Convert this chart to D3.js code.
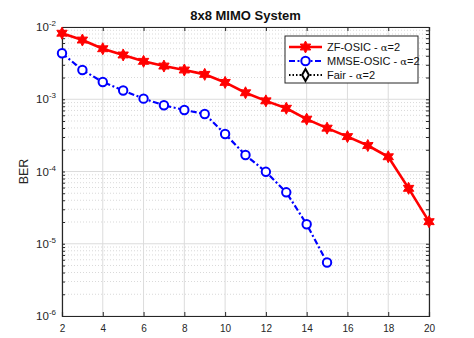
<!DOCTYPE html>
<html>
<head>
<meta charset="utf-8">
<script src="https://cdn.jsdelivr.net/npm/d3@7"></script>
<style>
	body{ margin:0; background:#fff; }
	svg text{ font-family:"Liberation Sans", Arial, sans-serif; }
</style>
</head>
<body>
<svg id="chart" width="474" height="338"></svg>
<script>
// data
var snr = [2, 3, 4, 5, 6, 7, 8, 9, 10, 11, 12, 13, 14, 15, 16, 17, 18, 19, 20];
var zfOsic = [8.2e-3, 6.6e-3, 5.0e-3, 4.1e-3, 3.35e-3, 2.88e-3, 2.54e-3, 2.21e-3, 1.71e-3, 1.23e-3,
	9.5e-4, 7.5e-4, 5.3e-4, 3.98e-4, 3.04e-4, 2.29e-4, 1.6e-4, 5.85e-5, 2.02e-5];
var mmseOsic = [4.33e-3, 2.54e-3, 1.73e-3, 1.32e-3, 1.02e-3, 8.25e-4, 7.1e-4, 6.25e-4, 3.3e-4, 1.69e-4,
	9.9e-5, 5.15e-5, 1.86e-5, 5.5e-6];
var fair = []; // nothing visible in the plot
var xTicks = [2, 4, 6, 8, 10, 12, 14, 16, 18, 20];
var yDecades = [-6, -5, -4, -3, -2];
var legendLabels = ["ZF-OSIC - ", "MMSE-OSIC - ", "Fair - "];

var svg = d3.select("#chart");
var margin = { left: 62, right: 45, top: 27, bottom: 22 };
var W = 474, H = 338;
var x = d3.scaleLinear().domain([2, 20]).range([margin.left, W - margin.right]);
var y = d3.scaleLog().domain([1e-6, 1e-2]).range([H - margin.bottom, margin.top]);

var x0 = x.range()[0], x1 = x.range()[1], y0 = y.range()[0], y1 = y.range()[1];

// minor grid (dotted)
var minorVals = [];
yDecades.slice(0, -1).forEach(function(d){
	for(var k = 2; k <= 9; k++){ minorVals.push(k * Math.pow(10, d)); }
});
var majorVals = yDecades.map(function(d){ return Math.pow(10, d); });
var grid = svg.append("g");
grid.selectAll("line.minor").data(minorVals).enter().append("line")
	.attr("x1", x0).attr("x2", x1)
	.attr("y1", function(v){ return y(v); }).attr("y2", function(v){ return y(v); })
	.attr("stroke", "#cfcfcf").attr("stroke-width", 0.8).attr("stroke-dasharray", "1,2");
grid.selectAll("line.majy").data(majorVals).enter().append("line")
	.attr("x1", x0).attr("x2", x1)
	.attr("y1", function(v){ return y(v); }).attr("y2", function(v){ return y(v); })
	.attr("stroke", "#dcdcdc").attr("stroke-width", 1);
grid.selectAll("line.majx").data(xTicks).enter().append("line")
	.attr("y1", y0).attr("y2", y1)
	.attr("x1", function(d){ return x(d); }).attr("x2", function(d){ return x(d); })
	.attr("stroke", "#dcdcdc").attr("stroke-width", 1);

// axes with inward ticks on all four sides
var axG = svg.append("g").attr("font-size", 11.5);
axG.append("g").attr("transform", "translate(0," + y0 + ")")
	.call(d3.axisBottom(x).tickValues(xTicks).tickSize(-4).tickPadding(9).tickFormat(d3.format("d")));
axG.append("g").attr("transform", "translate(0," + y1 + ")")
	.call(d3.axisTop(x).tickValues(xTicks).tickSize(-4).tickFormat(""));
axG.append("g").attr("transform", "translate(" + x0 + ",0)")
	.call(d3.axisLeft(y).tickValues(minorVals.concat(majorVals)).tickSize(-3).tickFormat(""));
axG.append("g").attr("transform", "translate(" + x1 + ",0)")
	.call(d3.axisRight(y).tickValues(minorVals.concat(majorVals)).tickSize(-3).tickFormat(""));
axG.selectAll(".domain").attr("stroke", "#262626").attr("stroke-width", 1.2);
axG.selectAll(".tick line").attr("stroke", "#262626");
axG.selectAll(".tick text").attr("fill", "#262626");

// y tick labels 10^n
var yLab = svg.append("g").attr("fill", "#262626").attr("font-size", 11.5);
yDecades.forEach(function(d){
	var t = yLab.append("text")
		.attr("x", x0 - 6).attr("y", y(Math.pow(10, d)) + 4)
		.attr("text-anchor", "end");
	t.append("tspan").text("10");
	t.append("tspan").attr("dy", -5).attr("font-size", 8).text(String(d));
});

// titles
svg.append("text").attr("x", (x0 + x1) / 2).attr("y", 20)
	.attr("text-anchor", "middle").attr("font-size", 13).attr("font-weight", "bold")
	.attr("fill", "#111").text("8x8 MIMO System");
svg.append("text").attr("transform", "translate(28," + ((y0 + y1) / 2) + ") rotate(-90)")
	.attr("text-anchor", "middle").attr("font-size", 12.5).attr("fill", "#262626").text("BER");

// markers
var starPath = function(r){
	var pts = [];
	for(var i = 0; i < 12; i++){
		var a = Math.PI / 6 * i - Math.PI / 2;
		var rr = i % 2 === 0 ? r : r * 0.55;
		pts.push([rr * Math.cos(a), rr * Math.sin(a)]);
	}
	return "M" + pts.join("L") + "Z";
};
var diamondPath = d3.symbol().type(d3.symbolDiamond).size(40)();

var series = [
	{ vals: zfOsic, color: "#ff0000", width: 2.6, dash: null, marker: "star" },
	{ vals: mmseOsic, color: "#0000ff", width: 2.2, dash: "6,2.5,2,2.5", marker: "circle" },
	{ vals: fair, color: "#000000", width: 2, dash: "1.5,2", marker: "diamond" }
];

var line = d3.line().x(function(d){ return x(d[0]); }).y(function(d){ return y(d[1]); });
var plot = svg.append("g");

var drawMarker = function(g, s, px, py){
	if(s.marker === "star"){
		g.append("path").attr("d", starPath(6)).attr("transform", "translate(" + px + "," + py + ")")
			.attr("fill", s.color).attr("stroke", s.color).attr("stroke-width", 1);
	}else if(s.marker === "circle"){
		g.append("circle").attr("cx", px).attr("cy", py).attr("r", 4.2)
			.attr("fill", "white").attr("stroke", s.color).attr("stroke-width", 2);
	}else{
		g.append("path").attr("d", diamondPath).attr("transform", "translate(" + px + "," + py + ")")
			.attr("fill", "white").attr("stroke", s.color).attr("stroke-width", 2);
	}
};

series.forEach(function(s){
	var pts = s.vals.map(function(v, i){ return [snr[i], v]; });
	if(pts.length === 0){ return; }
	plot.append("path").attr("d", line(pts))
		.attr("fill", "none").attr("stroke", s.color).attr("stroke-width", s.width)
		.attr("stroke-dasharray", s.dash);
	pts.forEach(function(p){ drawMarker(plot, s, x(p[0]), y(p[1])); });
});

// legend
var lg = svg.append("g");
lg.append("rect").attr("x", 285).attr("y", 36).attr("width", 133).attr("height", 47)
	.attr("fill", "white").attr("stroke", "#262626").attr("stroke-width", 1);
series.forEach(function(s, i){
	var ly = 47 + i * 14;
	lg.append("line").attr("x1", 289).attr("x2", 322).attr("y1", ly).attr("y2", ly)
		.attr("stroke", s.color).attr("stroke-width", s.width).attr("stroke-dasharray", s.dash);
	drawMarker(lg, s, 305.5, ly);
	var t = lg.append("text").attr("x", 327).attr("y", ly + 4).attr("font-size", 11).attr("fill", "#111");
	t.append("tspan").text(legendLabels[i]);
	t.append("tspan").attr("font-family", "'DejaVu Serif', serif").attr("font-size", 10).text("\u03b1");
	t.append("tspan").text("=2");
});
</script>
</body>
</html>
